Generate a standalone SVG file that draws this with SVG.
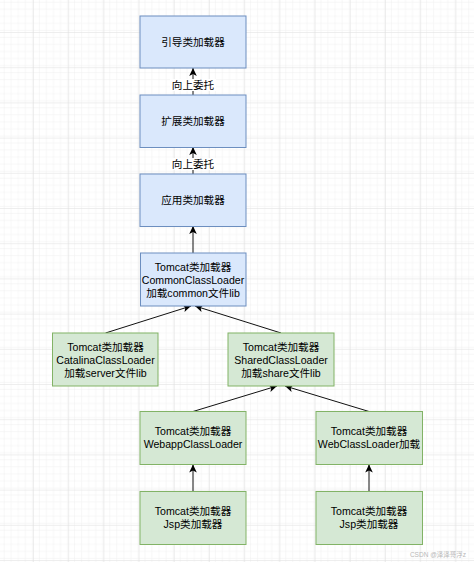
<svg xmlns="http://www.w3.org/2000/svg" width="474" height="562" viewBox="0 0 474 562">
<defs>
<pattern id="minor" x="-1.2" y="-2.2" width="7.04" height="7.04" patternUnits="userSpaceOnUse">
<path d="M7.04 0V7.04M0 7.04H7.04" fill="none" stroke="#efefef" stroke-width="1"/>
</pattern>
<pattern id="major" x="-1.2" y="-2.2" width="35.2" height="35.2" patternUnits="userSpaceOnUse">
<rect width="35.2" height="35.2" fill="url(#minor)"/>
<path d="M35.2 0V35.2M0 35.2H35.2" fill="none" stroke="#dedede" stroke-width="1"/>
</pattern>
<marker id="arr" markerUnits="userSpaceOnUse" markerWidth="10" markerHeight="10" viewBox="0 0 10 10" refX="9" refY="5" orient="auto">
<path d="M1 1.2L9 5L1 8.8L3 5Z" fill="#000"/>
</marker>
</defs>
<style>
.blue{fill:#dae8fc;stroke:#6c8ebf;stroke-width:1}
.green{fill:#d5e8d4;stroke:#82b366;stroke-width:1}
text{font-family:"Liberation Sans","Noto Sans CJK SC",sans-serif;font-size:10.6px;fill:#000;text-anchor:middle}
.edge{fill:none;stroke:#111;stroke-width:1;marker-end:url(#arr)}
.wm{font-size:6.5px;fill:#b8b8b8;text-anchor:end}
</style>
<rect width="474" height="562" fill="#fff"/>
<rect width="474" height="562" fill="url(#major)"/>
<g id="connectors">
<line class="edge" x1="193" y1="95" x2="193" y2="68"/>
<line class="edge" x1="193" y1="174" x2="193" y2="147"/>
<line class="edge" x1="193" y1="253" x2="193" y2="226"/>
<line class="edge" x1="105.5" y1="333" x2="191" y2="306"/>
<line class="edge" x1="281" y1="333" x2="195" y2="306"/>
<line class="edge" x1="193" y1="411.5" x2="277" y2="386"/>
<line class="edge" x1="369" y1="411.5" x2="285" y2="386"/>
<line class="edge" x1="193" y1="491.5" x2="193" y2="464.5"/>
<line class="edge" x1="369" y1="491.5" x2="369" y2="464.5"/>
<g id="label1"><rect x="170" y="79" width="46" height="12" fill="#fff"/><text x="193" y="88.8">向上委托</text></g>
<g id="label2"><rect x="170" y="158" width="46" height="12" fill="#fff"/><text x="193" y="167.8">向上委托</text></g>
</g>
<g id="bootstrap"><rect class="blue" x="140" y="16" width="106" height="52"/><text x="193" y="45.8">引导类加载器</text></g>
<g id="extension"><rect class="blue" x="140" y="95" width="106" height="52.5"/><text x="193" y="125">扩展类加载器</text></g>
<g id="application"><rect class="blue" x="140" y="174" width="106" height="52.5"/><text x="193" y="204">应用类加载器</text></g>
<g id="common"><rect class="blue" x="140.5" y="253" width="105.5" height="53"/>
<text x="193" y="270.5">Tomcat类加载器</text><text x="193" y="283.8">CommonClassLoader</text><text x="193" y="297.1">加载common文件lib</text></g>
<g id="catalina"><rect class="green" x="52.5" y="333" width="105.5" height="53"/>
<text x="105.5" y="350.5">Tomcat类加载器</text><text x="105.5" y="363.8">CatalinaClassLoader</text><text x="105.5" y="377.1">加载server文件lib</text></g>
<g id="shared"><rect class="green" x="228" y="333" width="106" height="53"/>
<text x="281" y="350.5">Tomcat类加载器</text><text x="281" y="363.8">SharedClassLoader</text><text x="281" y="377.1">加载share文件lib</text></g>
<g id="webapp"><rect class="green" x="140" y="411.5" width="106" height="53"/>
<text x="193" y="435">Tomcat类加载器</text><text x="193" y="448.3">WebappClassLoader</text></g>
<g id="webclass"><rect class="green" x="316" y="411.5" width="106.5" height="53"/>
<text x="369" y="435">Tomcat类加载器</text><text x="369" y="448.3">WebClassLoader加载</text></g>
<g id="jsp1"><rect class="green" x="140" y="491.5" width="106" height="53"/>
<text x="193" y="515">Tomcat类加载器</text><text x="193" y="528.3">Jsp类加载器</text></g>
<g id="jsp2"><rect class="green" x="316" y="491.5" width="106.5" height="53"/>
<text x="369" y="515">Tomcat类加载器</text><text x="369" y="528.3">Jsp类加载器</text></g>
<text class="wm" x="466" y="556.5">CSDN @泽泽哥浮z</text>
</svg>
